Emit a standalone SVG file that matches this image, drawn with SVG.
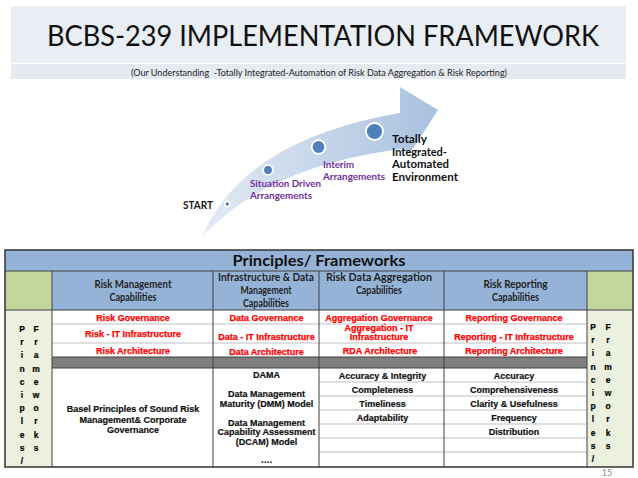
<svg xmlns="http://www.w3.org/2000/svg" width="638" height="478" viewBox="0 0 638 478">
<defs>
<style>
.cal{font-family:Lato,"Open Sans","Liberation Sans",sans-serif}
.b{font-weight:bold}
.ar{font-family:"Liberation Sans",Arial,sans-serif;font-weight:bold;font-size:9px}
.red{fill:#ff0000;stroke:#ff0000;stroke-width:0.25}
.blk{fill:#111;stroke:#111;stroke-width:0.2}
.mid{text-anchor:middle}
.pur{fill:#7030a0}
.hd{fill:#1f1f1f}
.dot{fill:#4f81bd;stroke:#ffffff;stroke-width:1.8}
.vl{font-family:"Liberation Sans",Arial,sans-serif;font-weight:bold;font-size:8.5px;text-anchor:middle;fill:#000;stroke:#000;stroke-width:0.2}
.hdr{fill:#95b3d7}
.grn{fill:#c3d69b}
.side{fill:#ebf1de}
.lt{stroke:#bfbfbf;stroke-width:1;fill:none}
.dk{stroke:#404040;stroke-width:1;fill:none}
</style>
<linearGradient id="ag" x1="0" y1="0" x2="1" y2="0">
<stop offset="0" stop-color="#e3ebf5"/>
<stop offset="1" stop-color="#a8c1df"/>
</linearGradient>
</defs>
<rect width="638" height="478" fill="#ffffff"/>

<g id="title">
<rect x="11" y="6" width="615" height="57" fill="#e9edf4"/>
<rect x="11" y="64" width="615" height="15" fill="#e6eaf1"/>
<text class="cal" x="47" y="46" font-size="28" fill="#111" textLength="552" lengthAdjust="spacingAndGlyphs">BCBS-239 IMPLEMENTATION FRAMEWORK</text>
<text class="cal" x="131" y="75.5" font-size="9.5" fill="#222" textLength="376" lengthAdjust="spacingAndGlyphs" xml:space="preserve">(Our Understanding  -Totally Integrated-Automation of Risk Data Aggregation &amp; Risk Reporting)</text>
</g>

<g id="connectors">
<path id="progress-arrow" d="M202,237 C230,170 300,130 400,113 L400,87 L438,110 L410,153 L400,149 C320,160 250,185 202,237 Z" fill="url(#ag)"/>
</g>

<g id="start">
<circle class="dot" cx="227.3" cy="204" r="2.6"/>
<text class="cal b" x="183" y="208.5" font-size="11" fill="#1a1a1a" textLength="30" lengthAdjust="spacingAndGlyphs">START</text>
</g>
<g id="situation-driven">
<circle class="dot" cx="268" cy="170" r="4.8"/>
<text class="cal b pur" x="250" y="187" font-size="10" textLength="71" lengthAdjust="spacingAndGlyphs">Situation Driven</text>
<text class="cal b pur" x="250" y="198.5" font-size="10" textLength="62" lengthAdjust="spacingAndGlyphs">Arrangements</text>
</g>
<g id="interim">
<circle class="dot" cx="318.5" cy="147" r="6.8"/>
<text class="cal b pur" x="323" y="168" font-size="10" textLength="31" lengthAdjust="spacingAndGlyphs">Interim</text>
<text class="cal b pur" x="323" y="179.5" font-size="10" textLength="62" lengthAdjust="spacingAndGlyphs">Arrangements</text>
</g>
<g id="totally-integrated">
<circle class="dot" cx="374.5" cy="131.5" r="8.5"/>
<text class="cal b" x="392" y="143" font-size="10.8" fill="#111" textLength="35" lengthAdjust="spacingAndGlyphs">Totally</text>
<text class="cal b" x="392" y="155.5" font-size="10.8" fill="#111" textLength="55" lengthAdjust="spacingAndGlyphs">Integrated-</text>
<text class="cal b" x="392" y="168" font-size="10.8" fill="#111" textLength="57" lengthAdjust="spacingAndGlyphs">Automated</text>
<text class="cal b" x="392" y="180.5" font-size="10.8" fill="#111" textLength="66" lengthAdjust="spacingAndGlyphs">Environment</text>
</g>

<g id="table">
<rect x="5" y="250" width="628" height="21" class="hdr"/>
<rect x="52" y="271" width="535" height="39" class="hdr"/>
<rect x="5" y="271" width="47" height="39" class="grn"/>
<rect x="587" y="271" width="46" height="39" class="grn"/>
<rect x="5" y="310" width="47" height="157" class="side"/>
<rect x="587" y="310" width="46" height="157" class="side"/>
<rect x="52" y="310" width="535" height="157" fill="#ffffff"/>
<rect x="52" y="357" width="535" height="11" fill="#7f7f7f"/>
<path class="lt" d="M52,324H587M52,343H587M319,382H587M319,396H587M319,410H587M319,424H587M319,438H587M319,452H587"/>
<path class="dk" d="M52,357H587M52,368H587"/>
<path class="dk" d="M5,271H633M5,310H633M52,271V467M213,271V467M319,271V467M444,271V467M587,271V467"/>
<rect x="5" y="250" width="628" height="217" fill="none" stroke="#333" stroke-width="1.5"/>
</g>

<g id="header-principles">
<text class="cal b mid" x="319" y="266" font-size="15" fill="#111" textLength="173" lengthAdjust="spacingAndGlyphs">Principles/ Frameworks</text>
</g>
<g id="col-risk-management">
<text class="cal b mid hd" x="133" y="288" font-size="11" textLength="77" lengthAdjust="spacingAndGlyphs">Risk Management</text>
<text class="cal b mid hd" x="133" y="300.5" font-size="11" textLength="47" lengthAdjust="spacingAndGlyphs">Capabilities</text>
<text class="ar red mid" x="133" y="320.5">Risk Governance</text>
<text class="ar red mid" x="133" y="337">Risk - IT Infrastructure</text>
<text class="ar red mid" x="133" y="353.5">Risk Architecture</text>
<text class="ar blk mid" x="133" y="412">Basel Principles of Sound Risk</text>
<text class="ar blk mid" x="133" y="422.5">Management&amp; Corporate</text>
<text class="ar blk mid" x="133" y="433">Governance</text>
</g>
<g id="col-data-management">
<text class="cal b mid hd" x="266" y="281" font-size="11" textLength="96" lengthAdjust="spacingAndGlyphs">Infrastructure &amp; Data</text>
<text class="cal b mid hd" x="266" y="294" font-size="11" textLength="51" lengthAdjust="spacingAndGlyphs">Management</text>
<text class="cal b mid hd" x="266" y="307" font-size="11" textLength="46" lengthAdjust="spacingAndGlyphs">Capabilities</text>
<text class="ar red mid" x="266.5" y="321">Data Governance</text>
<text class="ar red mid" x="266.5" y="340">Data - IT Infrastructure</text>
<text class="ar red mid" x="266.5" y="355">Data Architecture</text>
<text class="ar blk mid" x="266.5" y="378">DAMA</text>
<text class="ar blk mid" x="266.5" y="397">Data Management</text>
<text class="ar blk mid" x="266.5" y="406.5">Maturity (DMM) Model</text>
<text class="ar blk mid" x="266.5" y="426">Data Management</text>
<text class="ar blk mid" x="266.5" y="435">Capability Assessment</text>
<text class="ar blk mid" x="266.5" y="444.5">(DCAM) Model</text>
<text class="ar blk mid" x="266.5" y="463">….</text>
</g>
<g id="col-risk-data-aggregation">
<text class="cal b mid hd" x="379" y="281" font-size="11" textLength="106" lengthAdjust="spacingAndGlyphs">Risk Data Aggregation</text>
<text class="cal b mid hd" x="379" y="294" font-size="11" textLength="46" lengthAdjust="spacingAndGlyphs">Capabilities</text>
<text class="ar red mid" x="379" y="320.5">Aggregation Governance</text>
<text class="ar red mid" x="379" y="330.5">Aggregation - IT</text>
<text class="ar red mid" x="379" y="339.5">Infrastructure</text>
<text class="ar red mid" x="380" y="353.5">RDA Architecture</text>
<text class="ar blk mid" x="382.5" y="379">Accuracy &amp; Integrity</text>
<text class="ar blk mid" x="382.5" y="393">Completeness</text>
<text class="ar blk mid" x="382.5" y="407">Timeliness</text>
<text class="ar blk mid" x="382.5" y="421">Adaptability</text>
</g>
<g id="col-risk-reporting">
<text class="cal b mid hd" x="515.5" y="288" font-size="11" textLength="64" lengthAdjust="spacingAndGlyphs">Risk Reporting</text>
<text class="cal b mid hd" x="515.5" y="300.5" font-size="11" textLength="47" lengthAdjust="spacingAndGlyphs">Capabilities</text>
<text class="ar red mid" x="514" y="320.5">Reporting Governance</text>
<text class="ar red mid" x="514" y="340">Reporting - IT Infrastructure</text>
<text class="ar red mid" x="514" y="353.5">Reporting Architecture</text>
<text class="ar blk mid" x="514" y="379">Accuracy</text>
<text class="ar blk mid" x="514" y="393">Comprehensiveness</text>
<text class="ar blk mid" x="514" y="407">Clarity &amp; Usefulness</text>
<text class="ar blk mid" x="514" y="421">Frequency</text>
<text class="ar blk mid" x="514" y="435">Distribution</text>
</g>

<g id="side-left">
<text class="vl"><tspan x="22" y="332">P</tspan><tspan x="22" y="345.2">r</tspan><tspan x="22" y="358.4">i</tspan><tspan x="22" y="371.6">n</tspan><tspan x="22" y="384.8">c</tspan><tspan x="22" y="398">i</tspan><tspan x="22" y="411.2">p</tspan><tspan x="22" y="424.4">l</tspan><tspan x="22" y="437.6">e</tspan><tspan x="22" y="450.8">s</tspan><tspan x="22" y="464">/</tspan></text>
<text class="vl"><tspan x="36" y="332">F</tspan><tspan x="36" y="345.2">r</tspan><tspan x="36" y="358.4">a</tspan><tspan x="36" y="371.6">m</tspan><tspan x="36" y="384.8">e</tspan><tspan x="36" y="398">w</tspan><tspan x="36" y="411.2">o</tspan><tspan x="36" y="424.4">r</tspan><tspan x="36" y="437.6">k</tspan><tspan x="36" y="450.8">s</tspan></text>
</g>
<g id="side-right">
<text class="vl"><tspan x="593" y="330">P</tspan><tspan x="593" y="343.2">r</tspan><tspan x="593" y="356.4">i</tspan><tspan x="593" y="369.6">n</tspan><tspan x="593" y="382.8">c</tspan><tspan x="593" y="396">i</tspan><tspan x="593" y="409.2">p</tspan><tspan x="593" y="422.4">l</tspan><tspan x="593" y="435.6">e</tspan><tspan x="593" y="448.8">s</tspan><tspan x="593" y="462">/</tspan></text>
<text class="vl"><tspan x="608" y="330">F</tspan><tspan x="608" y="343.2">r</tspan><tspan x="608" y="356.4">a</tspan><tspan x="608" y="369.6">m</tspan><tspan x="608" y="382.8">e</tspan><tspan x="608" y="396">w</tspan><tspan x="608" y="409.2">o</tspan><tspan x="608" y="422.4">r</tspan><tspan x="608" y="435.6">k</tspan><tspan x="608" y="448.8">s</tspan></text>
</g>

<g id="page-number">
<text class="cal mid" x="607" y="476" font-size="9" fill="#8c8c8c">15</text>
</g>
</svg>
